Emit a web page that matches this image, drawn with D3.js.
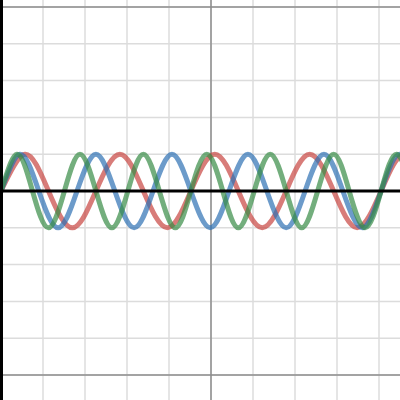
<!DOCTYPE html>
<html>
<head>
<meta charset="utf-8">
<script src="https://cdn.jsdelivr.net/npm/d3@7"></script>
<style>
  html, body { margin: 0; padding: 0; background: #fff; }
  svg { display: block; }
</style>
</head>
<body>
<div id="chart"></div>
<script>
// grid ticks (graph units)
const xTicks = [0, 1, 2, 3, 4, 5, 6, 7, 8, 9];
const yTicks = [-5, -4, -3, -2, -1, 0, 1, 2, 3, 4, 5];
const majorX = [0, 5];
const majorY = [-5, 0, 5];

// curve points: zero crossings and peaks/troughs
const redX = [-0.57, 0, 0.57, 1.13, 1.70, 2.26, 2.83, 3.39, 3.96, 4.52, 5.09, 5.65, 6.22, 6.79, 7.35, 7.92, 8.48, 9.05, 9.61, 10.18];
const redY = [-1, 0, 1, 0, -1, 0, 1, 0, -1, 0, 1, 0, -1, 0, 1, 0, -1, 0, 1, 0];

const blueX = [-0.45, 0, 0.45, 0.90, 1.36, 1.81, 2.26, 2.71, 3.17, 3.62, 4.07, 4.52, 4.98, 5.43, 5.88, 6.33, 6.79, 7.24, 7.69, 8.14, 8.60, 9.05, 9.50, 9.95, 10.41];
const blueY = [-1, 0, 1, 0, -1, 0, 1, 0, -1, 0, 1, 0, -1, 0, 1, 0, -1, 0, 1, 0, -1, 0, 1, 0, -1];

const greenX = [-0.38, 0, 0.38, 0.75, 1.13, 1.51, 1.88, 2.26, 2.64, 3.02, 3.39, 3.77, 4.15, 4.52, 4.90, 5.28, 5.65, 6.03, 6.41, 6.79, 7.16, 7.54, 7.92, 8.29, 8.67, 9.05, 9.42, 9.80, 10.18];
const greenY = [-1, 0, 1, 0, -1, 0, 1, 0, -1, 0, 1, 0, -1, 0, 1, 0, -1, 0, 1, 0, -1, 0, 1, 0, -1, 0, 1, 0, -1];

const W = 400, H = 400;

const svg = d3.select("#chart").append("svg")
    .attr("width", W).attr("height", H);

// origin sits at px (1, 191); 42 px per x unit, 36.8 px per y unit
const x = d3.scaleLinear().domain([-1 / 42, 399 / 42]).range([0, W]);
const y = d3.scaleLinear().domain([(191 - H) / 36.8, 191 / 36.8]).range([H, 0]);

// minor grid
svg.append("g").selectAll("line").data(xTicks).enter().append("line")
    .attr("x1", d => x(d)).attr("x2", d => x(d))
    .attr("y1", 0).attr("y2", H)
    .attr("stroke", "#dcdcdc").attr("stroke-width", 1.5);
svg.append("g").selectAll("line").data(yTicks).enter().append("line")
    .attr("x1", 0).attr("x2", W)
    .attr("y1", d => y(d)).attr("y2", d => y(d))
    .attr("stroke", "#dcdcdc").attr("stroke-width", 1.5);

// major grid
svg.append("g").selectAll("line").data(majorX).enter().append("line")
    .attr("x1", d => x(d)).attr("x2", d => x(d))
    .attr("y1", 0).attr("y2", H)
    .attr("stroke", "#8c8c8c").attr("stroke-width", 1.5);
svg.append("g").selectAll("line").data(majorY).enter().append("line")
    .attr("x1", 0).attr("x2", W)
    .attr("y1", d => y(d)).attr("y2", d => y(d))
    .attr("stroke", "#8c8c8c").attr("stroke-width", 1.5);

// curves
const series = [
    { xs: redX, ys: redY, color: "#c74440" },
    { xs: blueX, ys: blueY, color: "#2d70b3" },
    { xs: greenX, ys: greenY, color: "#388c46" }
];

const line = d3.line()
    .x(d => x(d[0]))
    .y(d => y(d[1]))
    .curve(d3.curveNatural);

svg.append("g").selectAll("path").data(series).enter().append("path")
    .attr("d", s => line(s.xs.map((v, i) => [v, s.ys[i]])))
    .attr("fill", "none")
    .attr("stroke", s => s.color)
    .attr("stroke-width", 5)
    .attr("stroke-opacity", 0.7)
    .attr("stroke-linecap", "round");

// axes (black)
svg.append("line")
    .attr("x1", 0).attr("x2", W)
    .attr("y1", y(0)).attr("y2", y(0))
    .attr("stroke", "#000").attr("stroke-width", 3);
svg.append("line")
    .attr("x1", x(0)).attr("x2", x(0))
    .attr("y1", 0).attr("y2", H)
    .attr("stroke", "#000").attr("stroke-width", 4);
</script>
</body>
</html>
